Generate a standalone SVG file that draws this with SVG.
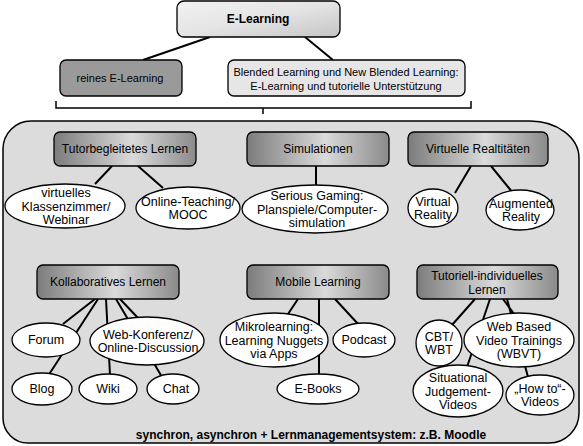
<svg xmlns="http://www.w3.org/2000/svg" width="583" height="446" viewBox="0 0 583 446">
<defs>
<linearGradient id="cat" x1="0" y1="0" x2="1" y2="0">
<stop offset="0" stop-color="#7c7c7c"/>
<stop offset="0.55" stop-color="#dadada"/>
<stop offset="1" stop-color="#8a8a8a"/>
</linearGradient>
<linearGradient id="top" x1="0" y1="0" x2="1" y2="1">
<stop offset="0" stop-color="#f2f2f2"/>
<stop offset="0.5" stop-color="#e4e4e4"/>
<stop offset="1" stop-color="#c4c4c4"/>
</linearGradient>
<style>
text{font-family:"Liberation Sans",Arial,sans-serif;font-size:12px;fill:#000;text-anchor:middle}
.b{font-weight:bold}
.s{font-size:11px}
.e text{font-size:12.5px}
.box{stroke:#000;stroke-width:1.3}
.cat{fill:url(#cat);stroke:#000;stroke-width:1.3}
.ell{fill:#fff;stroke:#000;stroke-width:1.3}
.ln{stroke:#000;stroke-width:2;fill:none}
</style>
</defs>
<rect width="583" height="446" fill="#fff"/>
<path id="frame" d="M31,121 H530 A49,37 0 0 1 579,158 V413 A30,30 0 0 1 549,443 H28 A25,25 0 0 1 3,418 V149 A28,28 0 0 1 31,121 Z" fill="#dcdcdc" stroke="#000" stroke-width="1.5"/>
<g id="connectors">
<path class="ln" d="M210,37 L143,60 M305,37 L333,60"/>
<path d="M56,101 V108 H471 V101 M263,108 V114" fill="none" stroke="#000" stroke-width="1.5"/>
<path class="ln" d="M112,166 L95,184 M138,166 L163,188"/>
<path class="ln" d="M316,166 V186"/>
<path class="ln" d="M471,166 L455,193 M491,166 L513,193"/>
<path class="ln" d="M95,299 L63,324 M98,299 L48,376 M106,299 L110,375 M116,299 L162,377 M120,299 L138,318"/>
<path class="ln" d="M298,299 L288,314 M319,299 V375 M335,299 L359,325"/>
<path class="ln" d="M475,299 L452,325 M490,299 L467,367 M503,299 L517,318 M507,299 L528,377"/>
</g>
<g id="e-learning"><rect class="box" x="177" y="1" width="163" height="36" rx="7" fill="url(#top)"/><text class="b" x="258" y="23">E-Learning</text></g>
<g id="reines"><rect class="box" x="60" y="60" width="122" height="36" rx="6" fill="#9a9a9a"/><text class="s" x="120" y="82">reines E-Learning</text></g>
<g id="blended"><rect class="box" x="228" y="60" width="237" height="36" rx="6" fill="#e6e6e6"/><text class="s" x="346" y="76">Blended Learning und New Blended Learning:</text><text class="s" x="346" y="90">E-Learning und tutorielle Unterstützung</text></g>

<g id="tutor"><rect class="cat" x="54" y="132" width="142" height="34" rx="6"/><text x="125" y="153">Tutorbegleitetes Lernen</text></g>
<g id="virt-klassen" class="e"><ellipse class="ell" cx="65" cy="206" rx="60" ry="22"/><text x="66" y="197">virtuelles</text><text x="66" y="210.5">Klassenzimmer/</text><text x="66" y="224">Webinar</text></g>
<g id="online-teaching" class="e"><ellipse class="ell" cx="188" cy="208" rx="52" ry="21"/><text x="188" y="205.5">Online-Teaching/</text><text x="188" y="219">MOOC</text></g>

<g id="simulationen"><rect class="cat" x="247" y="132" width="142" height="34" rx="6"/><text x="318" y="153">Simulationen</text></g>
<g id="serious" class="e"><ellipse class="ell" cx="315" cy="209" rx="73" ry="24"/><text x="317" y="200">Serious Gaming:</text><text x="317" y="213.5">Planspiele/Computer-</text><text x="317" y="227">simulation</text></g>

<g id="vr"><rect class="cat" x="408" y="132" width="140" height="34" rx="6"/><text x="478" y="153">Virtuelle Realtitäten</text></g>
<g id="virtual-reality" class="e"><ellipse class="ell" cx="433" cy="208" rx="25" ry="19"/><text x="433" y="205.5">Virtual</text><text x="433" y="219">Reality</text></g>
<g id="augmented" class="e"><ellipse class="ell" cx="520" cy="210" rx="34" ry="20"/><text x="521" y="207.5">Augmented</text><text x="521" y="221">Reality</text></g>

<g id="kollab"><rect class="cat" x="37" y="265" width="142" height="34" rx="6"/><text x="108" y="286">Kollaboratives Lernen</text></g>
<g id="forum" class="e"><ellipse class="ell" cx="46" cy="340" rx="34" ry="17"/><text x="46" y="344">Forum</text></g>
<g id="webkonf" class="e"><ellipse class="ell" cx="147" cy="341" rx="57" ry="24"/><text x="148" y="338.5">Web-Konferenz/</text><text x="148" y="352">Online-Discussion</text></g>
<g id="blog" class="e"><ellipse class="ell" cx="42" cy="389" rx="30" ry="16"/><text x="42" y="393">Blog</text></g>
<g id="wiki" class="e"><ellipse class="ell" cx="108" cy="389" rx="29" ry="15"/><text x="108" y="393">Wiki</text></g>
<g id="chat" class="e"><ellipse class="ell" cx="173" cy="389" rx="26" ry="15"/><text x="176" y="393">Chat</text></g>

<g id="mobile"><rect class="cat" x="247" y="265" width="142" height="34" rx="6"/><text x="318" y="286">Mobile Learning</text></g>
<g id="mikro" class="e"><ellipse class="ell" cx="274" cy="340" rx="54" ry="27"/><text x="274" y="331">Mikrolearning:</text><text x="274" y="344.5">Learning Nuggets</text><text x="274" y="358">via Apps</text></g>
<g id="podcast" class="e"><ellipse class="ell" cx="364" cy="340" rx="31" ry="17"/><text x="364" y="344">Podcast</text></g>
<g id="ebooks" class="e"><ellipse class="ell" cx="318" cy="389" rx="41" ry="15"/><text x="318" y="393">E-Books</text></g>

<g id="tutoriell"><rect class="cat" x="417" y="265" width="141" height="34" rx="6"/><text x="487" y="280">Tutoriell-individuelles</text><text x="487" y="294">Lernen</text></g>
<g id="cbt" class="e"><ellipse class="ell" cx="439" cy="343" rx="23" ry="23"/><text x="439" y="340.5">CBT/</text><text x="439" y="354">WBT</text></g>
<g id="wbvt" class="e"><ellipse class="ell" cx="519" cy="340" rx="55" ry="27"/><text x="519" y="331">Web Based</text><text x="519" y="344.5">Video Trainings</text><text x="519" y="358">(WBVT)</text></g>
<g id="situational" class="e"><ellipse class="ell" cx="458" cy="391" rx="45" ry="26"/><text x="458" y="382">Situational</text><text x="458" y="395.5">Judgement-</text><text x="458" y="409">Videos</text></g>
<g id="howto" class="e"><ellipse class="ell" cx="540" cy="395" rx="34" ry="20"/><text x="540" y="392.5">„How to“-</text><text x="540" y="406">Videos</text></g>

<text class="b" x="311" y="439">synchron, asynchron + Lernmanagementsystem: z.B. Moodle</text>
</svg>
